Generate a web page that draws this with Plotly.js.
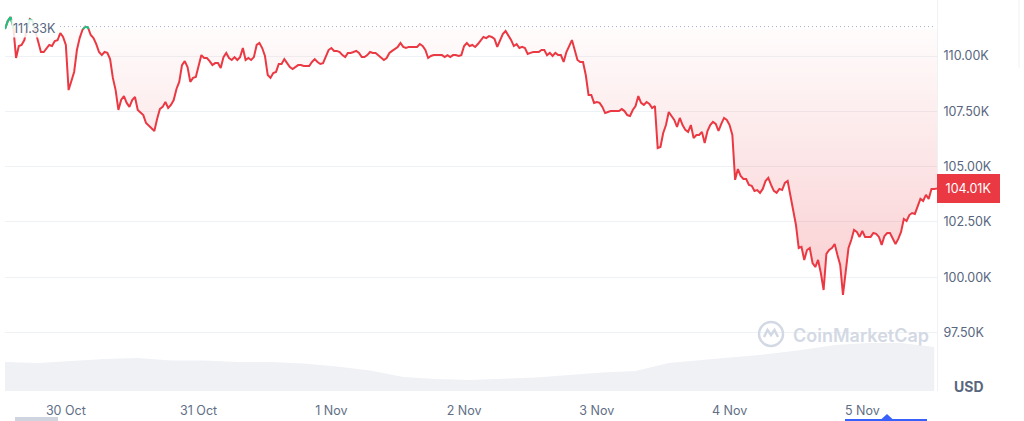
<!DOCTYPE html>
<html><head><meta charset="utf-8">
<script src="https://cdn.plot.ly/plotly-3.0.1.min.js"></script>
<style>html,body{margin:0;padding:0;background:#fff;} #chart{width:1024px;height:421px;}</style>
</head><body><div id="chart"></div>
<script>
// ---- data ----
const seriesStartUTC = [2025, 9, 29, 13, 0]; // 29 Oct 2025 13:00
const priceStepMinutes = 30;
const prices = [
111220,111580,111760,111310,109910,110450,110500,110720,111270,111670,
111580,111090,110630,110180,110180,110320,110500,110450,110680,110720,
111040,110860,110500,108460,108830,109280,110270,110810,111180,111330,
111290,110950,110810,110540,110180,110040,110180,110140,109860,109010,
108460,107560,108010,108190,107880,107700,108010,108150,107560,107420,
107330,106970,106840,106700,106610,107150,107600,107700,107920,107650,
107790,108010,108510,108830,109590,109770,109500,108830,109010,109050,
109550,110040,109910,109910,109770,109590,109680,109680,109460,109950,
110140,109910,109820,109950,109820,109950,110360,109820,109910,109820,
109950,110500,110590,110360,110000,109140,109010,109230,109280,109640,
109640,109860,109680,109500,109410,109500,109590,109590,109550,109550,
109550,109730,109860,109730,109640,109680,110000,110270,110360,110230,
110230,110180,110040,109950,110140,110140,110180,110230,110140,109950,
109950,110040,110180,110140,110140,110040,109910,109820,109910,110140,
110230,110320,110410,110590,110410,110360,110410,110410,110410,110410,
110540,110450,110270,109910,110000,110040,110040,110040,110040,109950,
110040,109950,110040,110040,110000,110040,110450,110590,110450,110500,
110410,110540,110720,110860,110810,110900,110860,110770,110410,110720,
110990,111130,110950,110720,110450,110540,110360,110410,110360,110090,
110140,110180,110180,110180,110270,110270,110040,110140,110000,110140,
110040,110040,109730,110180,110450,110720,110270,109820,109730,109730,
109140,108240,108240,107880,107920,107880,107700,107420,107470,107510,
107510,107510,107510,107600,107510,107330,107290,107560,107740,108190,
107880,107790,107920,107830,107650,107740,105840,105890,106520,106880,
107470,107290,107110,106790,107200,106880,106660,106570,106880,106290,
106430,106430,106570,106070,106610,106880,107020,106930,106610,106930,
107200,107110,106880,106430,104400,104890,104580,104440,104440,104170,
104130,103900,103940,103810,103990,104350,104490,104170,103900,103810,
103990,103940,104260,104350,103670,102950,102360,101320,101370,100780,
101230,101320,100640,100460,100780,100190,99420,101050,101230,101320,
101500,101000,100550,99200,100330,101320,101680,102140,102050,101820,
102090,101820,101820,101820,102000,101960,101820,101460,101860,102000,
102000,101770,101500,101730,102050,102630,102540,102810,102900,102860,
103180,103540,103450,103720,103540,103990,103990,104010
];
const volumeStepHours = 6;
const volumesB = [58,56,60,64,66,61,61,58,58,55,49,41,28,24,22,24,27,32,37,40,56,62,68,74,82,92,96,96,88];
const dayTicks = ['2025-10-30','2025-10-31','2025-11-01','2025-11-02','2025-11-03','2025-11-04','2025-11-05'];
const dayLabels = ['30 Oct','31 Oct','1 Nov','2 Nov','3 Nov','4 Nov','5 Nov'];
const priceTicks = [97500,100000,102500,105000,107500,110000];
const priceTickLabels = ['97.50K','100.00K','102.50K','105.00K','107.50K','110.00K'];
const highLabelValue = 111330;
const currencyLabel = 'USD';
const watermark = 'CoinMarketCap';

// ---- helpers ----
function pad(n){return String(n).padStart(2,'0');}
function fmt(ms){const d=new Date(ms);return d.getUTCFullYear()+'-'+pad(d.getUTCMonth()+1)+'-'+pad(d.getUTCDate())+' '+pad(d.getUTCHours())+':'+pad(d.getUTCMinutes())+':'+pad(d.getUTCSeconds());}
const t0 = Date.UTC.apply(null, seriesStartUTC);
const priceMs = prices.map((_,i)=>t0 + i*priceStepMinutes*60000);
const priceX = priceMs.map(fmt);
const volX = volumesB.map((_,i)=>fmt(t0 + i*volumeStepHours*3600000));
const base = prices[0];
const last = prices[prices.length-1];
const lastLabel = (last/1000).toFixed(2)+'K';
const highLabel = (highLabelValue/1000).toFixed(2)+'K';

// green segments (above the opening price)
const gx=[], gy=[];
for(let i=0;i<prices.length-1;i++){
  const a=prices[i], b=prices[i+1];
  const aUp=a>base, bUp=b>base;
  if(!aUp && !bUp) continue;
  let xa=priceMs[i], ya=a, xb=priceMs[i+1], yb=b;
  if(!aUp){const f=(base-a)/(b-a); xa=priceMs[i]+f*(priceMs[i+1]-priceMs[i]); ya=base;}
  if(!bUp){const f=(base-a)/(b-a); xb=priceMs[i]+f*(priceMs[i+1]-priceMs[i]); yb=base;}
  gx.push(fmt(xa),fmt(xb),null); gy.push(ya,yb,null);
}

const RED='#ea3943', GREEN='#16c784';
const traces = [
  {x:volX, y:volumesB, yaxis:'y2', type:'scatter', mode:'lines', fill:'tozeroy',
   fillcolor:'#eff1f5', line:{width:0, color:'#eff1f5'}, hoverinfo:'skip'},
  {x:[priceX[0], priceX[priceX.length-1]], y:[base, base], type:'scatter', mode:'lines',
   line:{width:0, color:'rgba(0,0,0,0)'}, hoverinfo:'skip'},
  {x:priceX, y:prices, type:'scatter', mode:'lines', fill:'tonexty',
   fillcolor:'rgba(234,57,67,0.08)',
   fillgradient:{type:'vertical', start:99000, stop:111300,
     colorscale:[[0,'rgba(234,57,67,0.25)'],[1,'rgba(234,57,67,0.015)']]},
   line:{color:RED, width:2}, hoverinfo:'skip'},
  {x:gx, y:gy, type:'scatter', mode:'lines', line:{color:GREEN, width:2}, connectgaps:false, hoverinfo:'skip'}
];

// plot box: x 5..937, y 0..391
const PX0=5, PW=932, PH=391;
const px=(x)=>(x-PX0)/PW, py=(y)=>(PH-y)/PH;
const WM='#d3d9e4';
const layout = {
  width:1024, height:421,
  margin:{l:5, r:87, t:0, b:30, pad:0},
  paper_bgcolor:'#ffffff', plot_bgcolor:'#ffffff',
  showlegend:false,
  font:{family:'Inter, "Noto Sans", sans-serif', color:'#58667e', size:12},
  xaxis:{type:'date', range:[priceX[0], priceX[priceX.length-1]], tickvals:dayTicks, ticktext:dayLabels,
    showgrid:false, zeroline:false, showline:false, ticks:'outside', ticklen:8, tickcolor:'rgba(0,0,0,0)',
    tickfont:{size:12.5, color:'#616e85'}, fixedrange:true},
  yaxis:{range:[94855,112532], side:'right', tickvals:priceTicks, ticktext:priceTickLabels,
    showgrid:true, gridcolor:'#eff2f5', gridwidth:1, zeroline:false, showline:true, linecolor:'#eff2f5',
    ticks:'outside', ticklen:3, tickcolor:'rgba(0,0,0,0)', tickfont:{size:12.5, color:'#58667e'}, fixedrange:true},
  yaxis2:{overlaying:'y', range:[0,782], visible:false, fixedrange:true},
  shapes:[
    {type:'line', xref:'paper', yref:'y', x0:px(60), x1:px(934), y0:highLabelValue, y1:highLabelValue,
     line:{color:'#a6b0c3', width:1, dash:'1px,3px'}},
    {type:'circle', xref:'paper', yref:'paper', xsizemode:'pixel', ysizemode:'pixel',
     xanchor:px(771), yanchor:py(334), x0:-12, x1:12, y0:-12, y1:12, line:{color:WM, width:2.5}},
    {type:'path', xref:'paper', yref:'paper', xsizemode:'pixel', ysizemode:'pixel',
     xanchor:px(771), yanchor:py(334), path:'M -7,-3 L -3.5,4 L 0,-1 L 3.5,4 L 7,-3',
     line:{color:WM, width:2.5}},
    {type:'rect', xref:'paper', yref:'paper', x0:px(15), x1:px(58), y0:py(425), y1:py(417),
     fillcolor:'#cfd4de', line:{width:0}},
    {type:'rect', xref:'paper', yref:'paper', x0:px(845), x1:px(927), y0:py(422), y1:py(419),
     fillcolor:'#3861fb', line:{width:0}},
    {type:'path', xref:'paper', yref:'paper',
     path:'M '+px(881)+','+py(419.5)+' L '+px(887)+','+py(414)+' L '+px(893)+','+py(419.5)+' Z',
     fillcolor:'#3861fb', line:{width:0}},
    {type:'line', xref:'paper', yref:'paper', x0:px(1019), x1:px(1019), y0:py(68), y1:1,
     line:{color:'#eff2f5', width:1}}
  ],
  annotations:[
    {text:highLabel, xref:'paper', yref:'y', x:px(11), y:highLabelValue, xanchor:'left', yanchor:'middle',
     yshift:-2, showarrow:false, font:{size:12.5, color:'#58667e'}, bgcolor:'rgba(255,255,255,0.85)', borderpad:1},
    {text:lastLabel, xref:'paper', yref:'y', x:1, y:last, xanchor:'left', yanchor:'middle', showarrow:false,
     font:{size:12.5, color:'#ffffff'}, bgcolor:RED, bordercolor:RED, borderwidth:1, borderpad:2,
     width:57, height:23, align:'center'},
    {text:'<b>'+currencyLabel+'</b>', xref:'paper', yref:'paper', x:px(969), y:py(386), xanchor:'center', yanchor:'middle',
     showarrow:false, font:{size:14, color:'#58667e'}},
    {text:watermark, xref:'paper', yref:'paper', x:px(791), y:py(335), xanchor:'left', yanchor:'middle',
     showarrow:false, font:{size:18, color:WM, weight:600}}
  ],
  hovermode:false
};
Plotly.newPlot('chart', traces, layout, {staticPlot:true, displayModeBar:false});
</script></body></html>
